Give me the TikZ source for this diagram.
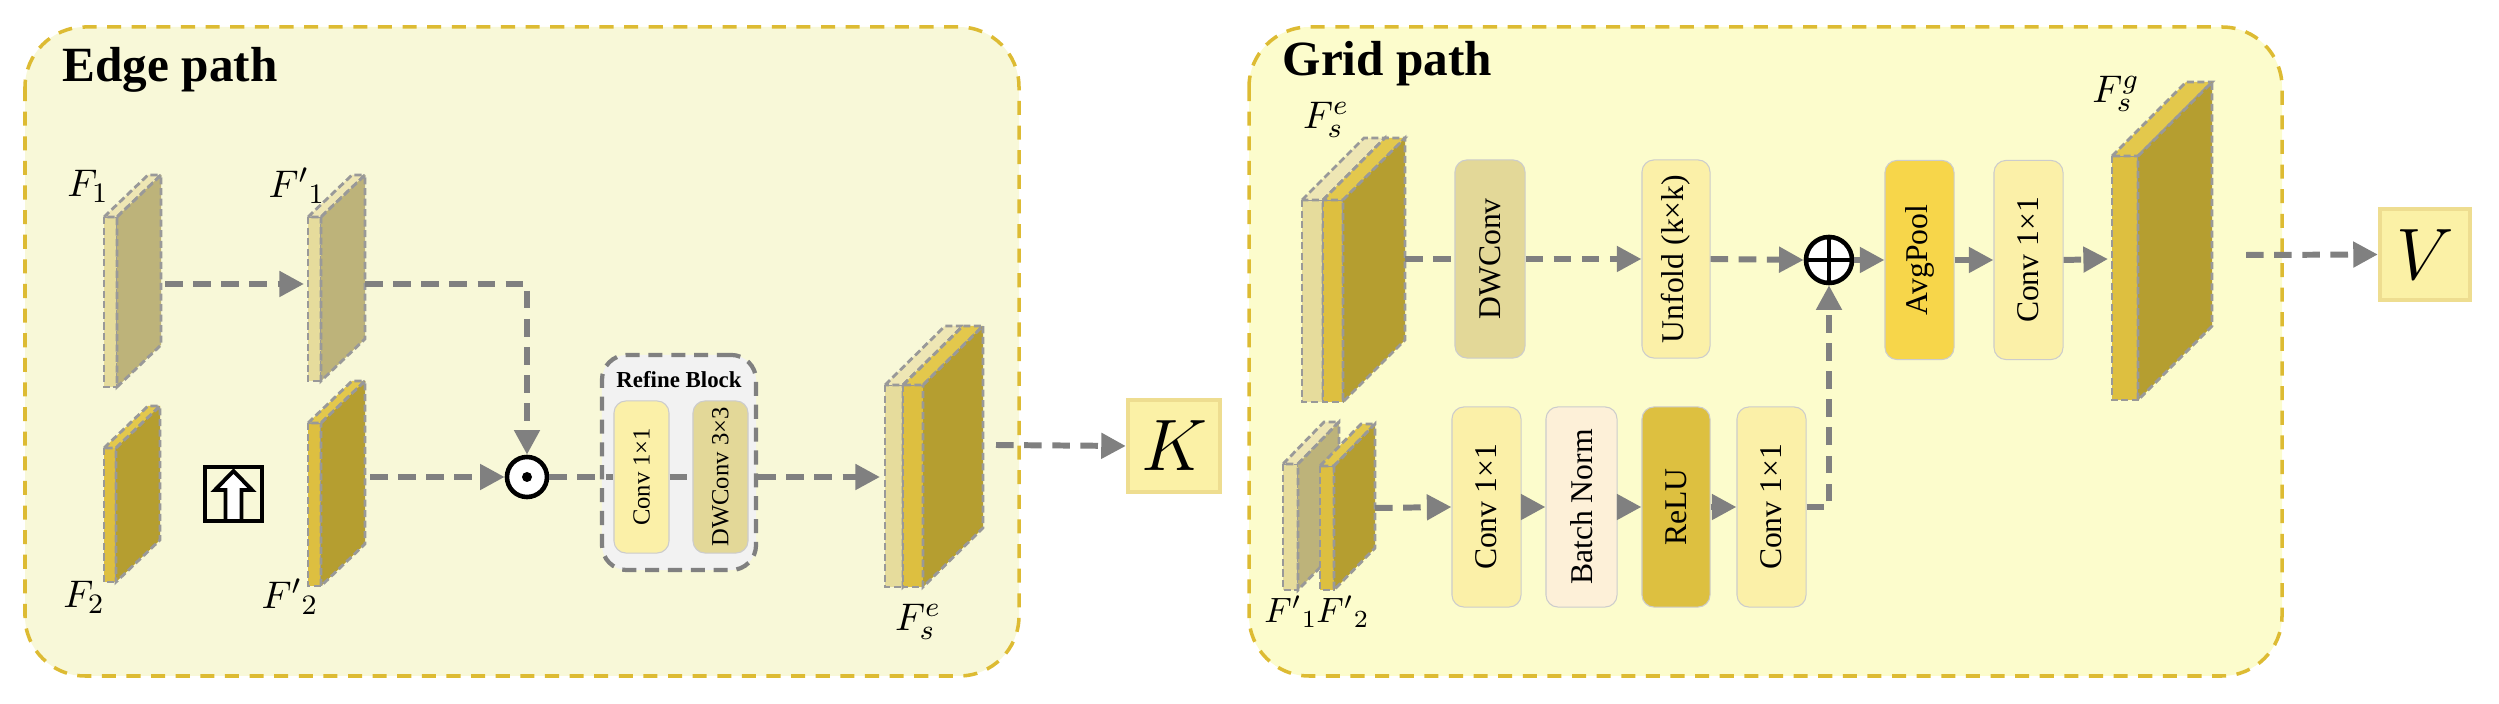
\documentclass[tikz,border=0pt]{standalone}
\usepackage{fontspec}
\setmainfont{Liberation Serif}
\usetikzlibrary{arrows.meta}
\definecolor{pborder}{HTML}{DDBB33}
\definecolor{pfillL}{HTML}{F8F8D8}
\definecolor{pfillR}{HTML}{FCFCCC}
\definecolor{lightfront}{HTML}{E6DC9C}
\definecolor{lighttop}{HTML}{EEE6B4}
\definecolor{oliveside}{HTML}{BDB37A}
\definecolor{goldfront}{HTML}{DDBF40}
\definecolor{goldtop}{HTML}{E3C84C}
\definecolor{goldside}{HTML}{B59E30}
\definecolor{boxpale}{HTML}{FBF0A8}
\definecolor{boxkhaki}{HTML}{E3D898}
\definecolor{boxcream}{HTML}{FDF0D8}
\definecolor{boxgold}{HTML}{DDC040}
\definecolor{boxavg}{HTML}{F7D64A}
\definecolor{kvfill}{HTML}{FBF1A6}
\definecolor{kvborder}{HTML}{EEDD90}
\definecolor{flowgray}{HTML}{808080}
\newcommand\slabx[9]{%
 \filldraw[slabline,fill=#7] (#1,#3) rectangle (#1+#2,#4);
 \filldraw[slabline,fill=#8] (#1,#3) -- (#1+#5,#3-#6) -- (#1+#2+#5,#3-#6) -- (#1+#2,#3) -- cycle;
 \filldraw[slabline,fill=#9] (#1+#2,#3) -- (#1+#2+#5,#3-#6) -- (#1+#2+#5,#4-#6) -- (#1+#2,#4) -- cycle;}
\begin{document}
\begin{tikzpicture}[x=0.01cm,y=-0.01cm,
 panel/.style={draw=pborder,line width=1pt,dash pattern=on 4pt off 3pt,rounded corners=0.6cm},
 slabline/.style={draw=flowgray!80,line width=0.8pt,dash pattern=on 2pt off 1pt},
 flow/.style={draw=flowgray,line width=1.7pt,dash pattern=on 5pt off 3pt,-{Triangle[length=7pt,width=7pt]}},
 flowline/.style={draw=flowgray,line width=1.7pt,dash pattern=on 5pt off 3pt},
 blk/.style={draw=flowgray!40,line width=0.3pt,rounded corners=0.12cm,inner sep=0pt,font=\fontsize{9}{9}\selectfont},
 lbl/.style={inner sep=0pt,font=\fontsize{11}{11}\selectfont},
 title/.style={inner sep=0pt,anchor=west,font=\fontsize{14}{14}\selectfont\bfseries}]
\useasboundingbox (0,0) rectangle (2499,704);
% panels
\draw[panel,fill=pfillL] (25,27) rectangle (1019,676);
\draw[panel,fill=pfillR] (1249,27) rectangle (2282,676);
\node[title] (t1) at (62,70) {Edge path};
\node[title] (t2) at (1282,64) {Grid path};
% ---------- Edge path ----------
\slabx{104}{13}{217}{387}{44}{42}{lightfront}{lighttop}{oliveside}
\slabx{308}{13}{217}{381}{44}{42}{lightfront}{lighttop}{oliveside}
\slabx{104}{12}{448}{582}{44}{42}{goldfront}{goldtop}{goldside}
\slabx{308}{13}{423}{586}{44}{42}{goldfront}{goldtop}{goldside}
\coordinate (f1r) at (165,284);
\coordinate (fp1l) at (304,284);
\coordinate (fp1r) at (365,284);
\coordinate (fp2r) at (370,477);
\node[lbl] (lf1) at (88,186) {$F_1$};
\node[lbl] (lfp1) at (297,186) {$F'{}_1$};
\node[lbl] (lf2) at (84,597) {$F_2$};
\node[lbl] (lfp2) at (290,597) {$F'{}_2$};
% upsample symbol
\node[draw=black,line width=1.2pt,minimum width=0.57cm,minimum height=0.54cm,inner sep=0pt] (up) at (233.5,494) {};
\draw[line width=1.1pt,fill=white] (225.5,519) -- (225.5,490) -- (215,490) -- (233.5,471) -- (252,490) -- (241.5,490) -- (241.5,519);
% odot
\node[circle,draw=black,line width=1.3pt,fill=white,minimum size=0.4cm,inner sep=0pt] (odot) at (527,477) {};
\fill (odot.center) circle (5);
% refine block
\node[draw=flowgray,fill=black!5,line width=1.2pt,dash pattern=on 4pt off 2.5pt,rounded corners=0.25cm,minimum width=1.54cm,minimum height=2.15cm,inner sep=0pt] (rb) at (679,462.5) {};
\node[inner sep=0pt,font=\fontsize{6.5}{6.5}\selectfont\bfseries] (rbt) at (679,380) {Refine Block};
\node[blk,fill=boxpale,minimum width=0.55cm,minimum height=1.52cm] (c11) at (641.5,477) {\fontsize{7}{7}\selectfont\rotatebox{90}{Conv 1×1}};
\node[blk,fill=boxkhaki,minimum width=0.55cm,minimum height=1.52cm] (dw33) at (720.5,477) {\fontsize{7}{7}\selectfont\rotatebox{90}{DWConv 3×3}};
% Fse left
\slabx{885}{18}{385}{587}{60}{59}{lightfront}{lighttop}{oliveside}
\slabx{903}{20}{385}{587}{60}{59}{goldfront}{goldtop}{goldside}
\coordinate (fsel) at (880,477);
\coordinate (fser) at (996,445);
\node[lbl] (lfse) at (918,622) {$F_s^e$};
% K
\node[draw=kvborder,line width=1.2pt,fill=kvfill,minimum width=0.92cm,minimum height=0.92cm,inner sep=0pt,font=\fontsize{20}{20}\selectfont] (K) at (1174,446) {$K$};
% edge connectors
\draw[flow] (f1r) -- (fp1l);
\draw[flow] (fp1r) -| (odot.north);
\draw[flow] (fp2r) -- (odot.west);
\draw[flowline] (odot.east) -- (c11.west);
\draw[flowline] (c11.east) -- (dw33.west);
\draw[flow] (rb.east|-dw33) -- (fsel);
\draw[flow] (fser) -- (K.west);
% ---------- Grid path ----------
\slabx{1302}{21}{200}{402}{62}{62}{lightfront}{lighttop}{oliveside}
\slabx{1323}{20}{200}{402}{62}{62}{goldfront}{goldtop}{goldside}
\coordinate (gfse) at (1405,259);
\node[lbl] (lgfse) at (1326,120) {$F_s^e$};
\slabx{1283}{15}{464}{590}{41}{42}{lightfront}{lighttop}{oliveside}
\slabx{1320}{14}{466}{590}{41}{42}{goldfront}{goldtop}{goldside}
\coordinate (gfp) at (1375,508);
\node[lbl,font=\fontsize{10}{10}\selectfont] (lgfp1) at (1291,612) {$F'{}_1$};
\node[lbl,font=\fontsize{10}{10}\selectfont] (lgfp2) at (1343,612) {$F'{}_2$};
\slabx{2112}{26}{156}{400}{74}{74}{goldfront}{goldtop}{goldside}
\coordinate (fsgl) at (2108,259);
\coordinate (fsgr) at (2246,255);
\node[lbl] (lfsg) at (2116,94) {$F_s^g$};
% top row boxes
\node[blk,fill=boxkhaki,minimum width=0.7cm,minimum height=1.98cm] (dwc) at (1490,259) {\rotatebox{90}{DWConv}};
\node[blk,fill=boxpale,minimum width=0.68cm,minimum height=1.98cm] (unf) at (1676,259) {\rotatebox{90}{Unfold (k×k)}};
\node[circle,draw=black,line width=1.3pt,fill=white,minimum size=0.46cm,inner sep=0pt] (oplus) at (1829,260) {};
\draw[line width=1.3pt] (oplus.north) -- (oplus.south) (oplus.west) -- (oplus.east);
\node[blk,fill=boxavg,minimum width=0.69cm,minimum height=1.99cm] (avg) at (1919.5,260) {\rotatebox{90}{AvgPool}};
\node[blk,fill=boxpale,minimum width=0.69cm,minimum height=1.99cm] (cv1) at (2028.5,260) {\rotatebox{90}{Conv 1×1}};
% bottom row boxes
\node[blk,fill=boxpale,minimum width=0.69cm,minimum height=2cm] (b1) at (1486.5,507) {\rotatebox{90}{Conv 1×1}};
\node[blk,fill=boxcream,minimum width=0.71cm,minimum height=2cm] (b2) at (1581.5,507) {\rotatebox{90}{Batch Norm}};
\node[blk,fill=boxgold,minimum width=0.68cm,minimum height=2cm] (b3) at (1676,507) {\rotatebox{90}{ReLU}};
\node[blk,fill=boxpale,minimum width=0.69cm,minimum height=2cm] (b4) at (1771.5,507) {\rotatebox{90}{Conv 1×1}};
% V
\node[draw=kvborder,line width=1.2pt,fill=kvfill,minimum width=0.9cm,minimum height=0.91cm,inner sep=0pt,font=\fontsize{20}{20}\selectfont] (V) at (2425,254.5) {$V$};
% grid connectors
\draw[flowline] (gfse) -- (dwc.west);
\draw[flow] (dwc.east) -- (unf.west);
\draw[flow] (unf.east) -- (oplus.west);
\draw[flow] (oplus.east) -- (avg.west);
\draw[flow] (avg.east) -- (cv1.west);
\draw[flow] (cv1.east) -- (fsgl);
\draw[flow] (fsgr) -- (V.west);
\draw[flow] (gfp) -- (b1.west);
\draw[flow] (b1.east) -- (b2.west);
\draw[flow] (b2.east) -- (b3.west);
\draw[flow] (b3.east) -- (b4.west);
\draw[flow] (b4.east) -| (oplus.south);
\end{tikzpicture}
\end{document}
